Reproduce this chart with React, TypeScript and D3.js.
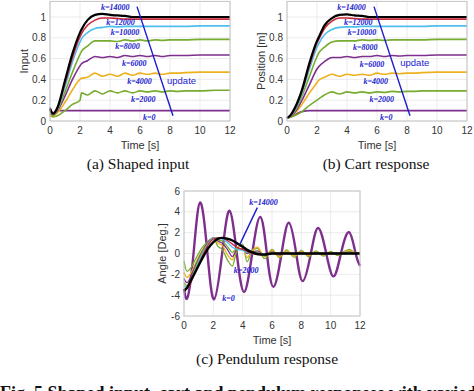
import React from 'react';
import * as d3 from 'd3';

// ---- data ----
const kLabels = ['k=0', 'k=2000', 'k=4000', 'k=6000', 'k=8000', 'k=10000', 'k=12000', 'k=14000'];
const kColors = ['#7E2F8E', '#77AC30', '#EDB120', '#7E2F8E', '#77AC30', '#4DBEEE', '#C8283A', '#000000'];

const timeAB = [0, 0.2, 0.5, 1, 1.5, 2, 2.1, 2.5, 3, 3.5, 4, 4.5, 5, 5.5, 6, 6.5, 7, 7.5, 8, 8.5, 9, 10, 11, 12];

// (a) shaped input
const inputK0 = [0.13, 0.08, 0.1, 0.1, 0.1, 0.1, 0.1, 0.1, 0.1, 0.1, 0.1, 0.1, 0.1, 0.1, 0.1, 0.1, 0.1, 0.1, 0.1, 0.1, 0.1, 0.1, 0.1, 0.1];
const inputK2000 = [0.05, 0.04, 0.05, 0.1, 0.16, 0.2, 0.27, 0.25, 0.29, 0.26, 0.29, 0.27, 0.29, 0.27, 0.29, 0.28, 0.29, 0.28, 0.29, 0.285, 0.29, 0.29, 0.295, 0.295];
const inputK4000 = [0.06, 0.05, 0.08, 0.18, 0.3, 0.4, 0.41, 0.42, 0.46, 0.43, 0.45, 0.43, 0.46, 0.44, 0.46, 0.45, 0.46, 0.45, 0.46, 0.46, 0.465, 0.47, 0.47, 0.47];
const inputK6000 = [0.07, 0.06, 0.1, 0.24, 0.4, 0.53, 0.55, 0.58, 0.62, 0.61, 0.62, 0.61, 0.63, 0.62, 0.63, 0.62, 0.63, 0.62, 0.63, 0.63, 0.63, 0.635, 0.635, 0.635];
const inputK8000 = [0.08, 0.06, 0.11, 0.28, 0.47, 0.64, 0.67, 0.72, 0.77, 0.77, 0.77, 0.765, 0.78, 0.77, 0.78, 0.77, 0.78, 0.775, 0.78, 0.78, 0.78, 0.785, 0.785, 0.785];
const inputK10000 = [0.09, 0.07, 0.12, 0.33, 0.57, 0.76, 0.79, 0.85, 0.89, 0.9, 0.91, 0.905, 0.91, 0.91, 0.91, 0.91, 0.91, 0.91, 0.91, 0.91, 0.91, 0.915, 0.915, 0.915];
const inputK12000 = [0.1, 0.07, 0.13, 0.36, 0.61, 0.81, 0.84, 0.92, 0.97, 0.99, 0.99, 0.985, 0.98, 0.98, 0.98, 0.98, 0.98, 0.98, 0.98, 0.98, 0.98, 0.98, 0.98, 0.98];
const inputK14000 = [0.12, 0.07, 0.13, 0.39, 0.65, 0.85, 0.88, 0.97, 1.02, 1.03, 1.02, 1.015, 1.01, 1.0, 1.0, 1.0, 1.0, 1.0, 1.0, 1.0, 1.0, 1.0, 1.0, 1.0];

// (b) cart position
const posK0 = [0.03, 0.04, 0.06, 0.09, 0.1, 0.1, 0.1, 0.1, 0.1, 0.1, 0.1, 0.1, 0.1, 0.1, 0.1, 0.1, 0.1, 0.1, 0.1, 0.1, 0.1, 0.1, 0.1, 0.1];
const posK2000 = [0.03, 0.035, 0.05, 0.09, 0.15, 0.2, 0.21, 0.25, 0.28, 0.26, 0.28, 0.27, 0.28, 0.27, 0.28, 0.275, 0.285, 0.28, 0.285, 0.285, 0.29, 0.29, 0.29, 0.29];
const posK4000 = [0.03, 0.04, 0.07, 0.16, 0.27, 0.37, 0.39, 0.42, 0.45, 0.43, 0.45, 0.44, 0.45, 0.44, 0.46, 0.45, 0.46, 0.455, 0.46, 0.46, 0.465, 0.47, 0.47, 0.47];
const posK6000 = [0.03, 0.04, 0.08, 0.2, 0.35, 0.5, 0.52, 0.57, 0.61, 0.61, 0.62, 0.61, 0.62, 0.62, 0.63, 0.62, 0.63, 0.625, 0.63, 0.63, 0.63, 0.635, 0.635, 0.635];
const posK8000 = [0.03, 0.045, 0.09, 0.24, 0.43, 0.62, 0.65, 0.71, 0.76, 0.77, 0.77, 0.77, 0.78, 0.775, 0.78, 0.775, 0.78, 0.78, 0.78, 0.78, 0.78, 0.785, 0.785, 0.785];
const posK10000 = [0.03, 0.045, 0.1, 0.27, 0.5, 0.71, 0.74, 0.83, 0.88, 0.9, 0.905, 0.905, 0.91, 0.91, 0.91, 0.91, 0.91, 0.91, 0.91, 0.91, 0.91, 0.915, 0.915, 0.915];
const posK12000 = [0.03, 0.05, 0.11, 0.29, 0.53, 0.75, 0.78, 0.89, 0.96, 0.99, 0.99, 0.985, 0.98, 0.98, 0.98, 0.98, 0.98, 0.98, 0.98, 0.98, 0.98, 0.98, 0.98, 0.98];
const posK14000 = [0.03, 0.05, 0.12, 0.3, 0.56, 0.77, 0.8, 0.92, 0.99, 1.02, 1.025, 1.015, 1.01, 1.0, 1.0, 1.0, 1.0, 1.0, 1.0, 1.0, 1.0, 1.0, 1.0, 1.0];

// (c) pendulum angle
const timeK0 = [0, 0.25, 0.65, 1.1, 1.6, 2.05, 2.6, 3.1, 3.6, 4.1, 4.65, 5.2, 5.65, 6.1, 6.65, 7.15, 7.65, 8.1, 8.65, 9.15, 9.7, 10.2, 10.7, 11.25, 11.7, 12];
const angleK0 = [-3.4, -4.2, 0, 4.9, 0, -4.4, 0, 4.1, 0, -3.7, 0, 3.5, 0, -3.2, 0, 2.95, 0, -2.65, 0, 2.45, 0, -2.2, 0, 2.05, 0, -1.2];

const timeC = [0, 0.2, 0.5, 0.8, 1.2, 1.6, 2, 2.3, 2.6, 3, 3.3, 3.6, 4, 4.3, 4.6, 5, 5.5, 6, 6.5, 7, 7.5, 8, 8.5, 9, 9.5, 10, 10.5, 11, 11.3, 11.6, 12];
const angleK2000 = [-0.7, -1.7, -1.3, -0.5, 0.5, 1.1, 1.5, 0.7, 0.4, -0.7, -1.2, 0.3, 0.9, -0.8, 0.1, 0.5, -0.5, 0.4, -0.4, 0.35, -0.35, 0.3, -0.3, 0.25, -0.25, 0.2, -0.2, 0.25, 0.4, 0.1, 0];
const angleK4000 = [-1.8, -2.3, -1.8, -0.9, 0.2, 1.0, 1.5, 1.0, 0.8, -0.2, -0.6, 0.6, 0.7, -0.4, 0.2, 0.6, -0.3, 0.3, -0.3, 0.25, -0.25, 0.2, -0.2, 0.15, -0.15, 0.1, -0.1, 0.15, 0.3, 0.1, 0];
const angleK6000 = [-2.4, -2.8, -2.1, -1.1, 0.1, 1.0, 1.5, 1.2, 1.0, 0.3, -0.3, 0.4, 0.5, 0, 0.1, 0.25, -0.2, 0.15, -0.15, 0.1, -0.1, 0.1, -0.1, 0.05, -0.05, 0, 0, 0.05, 0.15, 0.05, 0];
const angleK8000 = [-2.8, -3.1, -2.4, -1.3, 0, 0.9, 1.5, 1.3, 1.2, 0.6, 0.1, 0.5, 0.4, 0.1, 0.1, 0.1, -0.2, 0.1, -0.1, 0.1, -0.1, 0, -0.05, 0, 0, 0, 0, 0.05, 0.15, 0.05, 0];
const angleK10000 = [-3.1, -3.3, -2.6, -1.5, -0.2, 0.8, 1.5, 1.5, 1.4, 1.0, 0.6, 0.4, 0.3, 0.1, 0, 0, -0.1, 0, 0, 0, 0, 0, 0, 0, 0, 0, 0, 0, 0.05, 0, 0];
const angleK12000 = [-3.4, -3.4, -2.7, -1.7, -0.4, 0.7, 1.4, 1.5, 1.5, 1.2, 0.9, 0.6, 0.4, 0.2, 0, -0.1, -0.1, 0, 0, 0, 0, 0, 0, 0, 0, 0, 0, 0, 0, 0, 0];
const angleK14000 = [-3.6, -3.3, -2.5, -1.7, -0.6, 0.4, 1.1, 1.4, 1.5, 1.4, 1.25, 1.0, 0.65, 0.35, 0.15, -0.05, -0.1, 0, 0, 0, 0, 0, 0, 0, 0, 0, 0, 0, 0, 0, 0];

const timeTicks = [0, 2, 4, 6, 8, 10, 12];
const unitTicks = [0, 0.2, 0.4, 0.6, 0.8, 1];
const angleTicks = [-6, -4, -2, 0, 2, 4, 6];

// label anchors, in data coordinates
const labelTimeAB = [6.2, 5.4, 5.15, 4.8, 4.35, 4.05, 3.75, 3.4];
const labelValueA = [0.04, 0.21, 0.385, 0.56, 0.72, 0.85, 0.95, 1.095];
const labelTimeB = [6.2, 5.5, 5.1, 4.85, 4.4, 4.05, 3.8, 3.35];
const labelValueB = [0.04, 0.21, 0.38, 0.55, 0.71, 0.85, 0.95, 1.095];
const updateArrowAB = [[5.8, 1.1], [8.2, 0.05]];
const updateArrowC = [[3.8, 0.85], [5.0, 4.4]];

const BLUE = '#1c1cd0';
const GRID = '#e6e6e6';
const FRAME = '#c4c4c4';
const SANS = '"Liberation Sans", Arial, sans-serif';
const SERIF = '"Liberation Serif", "Times New Roman", serif';

const inputSeries = [inputK0, inputK2000, inputK4000, inputK6000, inputK8000, inputK10000, inputK12000, inputK14000];
const posSeries = [posK0, posK2000, posK4000, posK6000, posK8000, posK10000, posK12000, posK14000];
const angleSeries = [angleK2000, angleK4000, angleK6000, angleK8000, angleK10000, angleK12000, angleK14000];

const Axes = ({ x, y, yTicks, xLabel, yLabel, yLabelX, caption, captionX, children }) => {
  const [x0, x1] = x.range();
  const [yb, yt] = y.range();
  return (
    <g>
      {timeTicks.map(t => (
        <line key={'gx' + t} x1={x(t)} x2={x(t)} y1={yt} y2={yb} stroke={GRID} strokeWidth={0.8} />
      ))}
      {yTicks.map(v => (
        <line key={'gy' + v} x1={x0} x2={x1} y1={y(v)} y2={y(v)} stroke={GRID} strokeWidth={0.8} />
      ))}
      {children}
      <rect x={x0} y={yt} width={x1 - x0} height={yb - yt} fill="none" stroke={FRAME} strokeWidth={1} />
      {timeTicks.map(t => (
        <text key={'tx' + t} x={x(t)} y={yb + 13} textAnchor="middle" fontFamily={SANS} fontSize={10} fill="#333">{t}</text>
      ))}
      {yTicks.map(v => (
        <text key={'ty' + v} x={x0 - 4} y={y(v) + 3.5} textAnchor="end" fontFamily={SANS} fontSize={10} fill="#333">{v}</text>
      ))}
      <text x={(x0 + x1) / 2} y={yb + 28} textAnchor="middle" fontFamily={SANS} fontSize={11} fill="#333">{xLabel}</text>
      <text transform={`translate(${yLabelX},${(yb + yt) / 2}) rotate(-90)`} textAnchor="middle" fontFamily={SANS} fontSize={11} fill="#333">{yLabel}</text>
      <text x={captionX} y={yb + 48} textAnchor="middle" fontFamily={SERIF} fontSize={15.5} fill="#111">{caption}</text>
    </g>
  );
};

const KLabel = ({ x, y, text }) => (
  <text x={x} y={y} dy="0.35em" fontFamily={SERIF} fontStyle="italic" fontWeight="bold" fontSize={8} fill={BLUE}>{text}</text>
);

const StepPanel = ({ left, series, labelT, labelV, yLabel, yLabelX, caption, captionX, updatePos }) => {
  const x = d3.scaleLinear().domain([0, 12]).range([left, left + 180]);
  const y = d3.scaleLinear().domain([0, 1.15]).range([121, 1.4]);
  const line = d3.line().x(d => x(d[0])).y(d => y(d[1])).curve(d3.curveMonotoneX);
  return (
    <Axes x={x} y={y} yTicks={unitTicks} xLabel="Time [s]" yLabel={yLabel} yLabelX={yLabelX} caption={caption} captionX={captionX}>
      {series.map((vals, i) => (
        <path key={i} d={line(timeAB.map((t, j) => [t, vals[j]]))} fill="none" stroke={kColors[i]}
          strokeWidth={i === 7 ? 2.2 : 1.6} strokeLinejoin="round" />
      ))}
      <line x1={x(updateArrowAB[0][0])} y1={y(updateArrowAB[0][1])} x2={x(updateArrowAB[1][0])} y2={y(updateArrowAB[1][1])} stroke={BLUE} strokeWidth={1.4} />
      {kLabels.map((k, i) => (
        <KLabel key={k} x={x(labelT[i])} y={y(labelV[i])} text={k} />
      ))}
      <text x={x(updatePos[0])} y={y(updatePos[1])} dy="0.35em" fontFamily={SANS} fontSize={9.5} fill={BLUE}>update</text>
    </Axes>
  );
};

const PendulumPanel = () => {
  const x = d3.scaleLinear().domain([0, 12]).range([184, 360]);
  const y = d3.scaleLinear().domain([-6, 6]).range([316, 191]);
  const line = d3.line().x(d => x(d[0])).y(d => y(d[1])).curve(d3.curveMonotoneX);
  const smooth = d3.line().x(d => x(d[0])).y(d => y(d[1])).curve(d3.curveNatural);
  const colorsC = kColors.slice(1);
  return (
    <Axes x={x} y={y} yTicks={angleTicks} xLabel="Time [s]" yLabel="Angle [Deg.]" yLabelX={166} caption="(c) Pendulum response" captionX={267}>
      <path d={smooth(timeK0.map((t, j) => [t, angleK0[j]]))} fill="none" stroke={kColors[0]} strokeWidth={2.4} />
      {angleSeries.map((vals, i) => (
        <path key={i} d={line(timeC.map((t, j) => [t, vals[j]]))} fill="none" stroke={colorsC[i]}
          strokeWidth={i === 6 ? 2.4 : 1.3} strokeLinejoin="round" />
      ))}
      <line x1={x(updateArrowC[0][0])} y1={y(updateArrowC[0][1])} x2={x(updateArrowC[1][0])} y2={y(updateArrowC[1][1])} stroke={BLUE} strokeWidth={1.4} />
      <KLabel x={x(4.45)} y={y(4.9)} text="k=14000" />
      <KLabel x={x(3.4)} y={y(-1.6)} text="k=2000" />
      <KLabel x={x(2.6)} y={y(-4.25)} text="k=0" />
    </Axes>
  );
};

export default function App() {
  return (
    <svg width={474} height={391} style={{ position: 'absolute', left: 0, top: 0, background: '#fff' }}>
      <rect width={474} height={391} fill="#fff" />
      <StepPanel left={50} series={inputSeries} labelT={labelTimeAB} labelV={labelValueA} yLabel="Input" yLabelX={28}
        caption="(a) Shaped input" captionX={138} updatePos={[7.8, 0.39]} />
      <StepPanel left={287} series={posSeries} labelT={labelTimeB} labelV={labelValueB} yLabel="Position [m]" yLabelX={265}
        caption="(b) Cart response" captionX={376} updatePos={[7.55, 0.56]} />
      <PendulumPanel />
      <text x={0} y={399} fontFamily={SERIF} fontWeight="bold" fontSize={18} fill="#111">Fig. 5  Shaped input, cart and pendulum responses with varied k</text>
    </svg>
  );
}
